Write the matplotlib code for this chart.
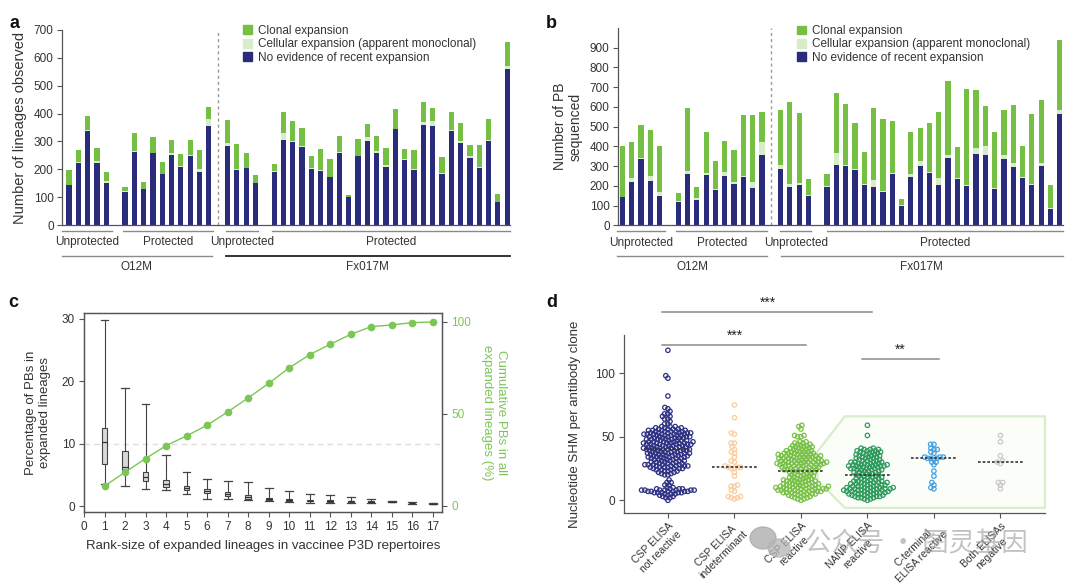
import numpy as np
import matplotlib
matplotlib.use("Agg")
import matplotlib.pyplot as plt
from matplotlib.patches import Patch, Polygon, Ellipse
import matplotlib.transforms as mtransforms

plt.rcParams["font.family"] = ["Liberation Sans", "DejaVu Sans"]
plt.rcParams["axes.edgecolor"] = "#555555"
plt.rcParams["axes.linewidth"] = 0.9
plt.rcParams["xtick.color"] = "#555555"
plt.rcParams["ytick.color"] = "#555555"
plt.rcParams["xtick.labelcolor"] = "#333333"
plt.rcParams["ytick.labelcolor"] = "#333333"
plt.rcParams["axes.labelcolor"] = "#333333"

# ---------------- data ----------------
# groups of animals, in plotting order
group_sizes = [5, 10, 4, 26]
group_names = ["Unprotected", "Protected", "Unprotected", "Protected"]
animal_names = ["O12M", "Fx017M"]

# a: number of lineages observed
lin_none = [142, 222, 338, 222, 150,
            119, 262, 128, 257, 182, 252, 207, 246, 190, 354,
            284, 197, 203, 149,
            191, 306, 299, 281, 202, 194, 172, 258, 100, 246, 302, 260, 207,
            343, 234, 198, 360, 355, 183, 336, 296, 241, 204, 300, 82, 560]
lin_cell = [2, 5, 3, 8, 8,
            2, 4, 3, 3, 2, 5, 4, 4, 12, 27,
            10, 3, 2, 2,
            3, 24, 4, 3, 3, 2, 2, 3, 2, 3, 13, 5, 8,
            3, 4, 2, 10, 18, 2, 4, 6, 6, 3, 4, 2, 11]
lin_clonal = [54, 41, 51, 46, 33,
              15, 64, 23, 57, 41, 49, 43, 56, 69, 44,
              83, 90, 55, 29,
              25, 74, 69, 65, 44, 76, 63, 59, 4, 59, 49, 55, 61,
              71, 34, 68, 73, 48, 60, 66, 65, 40, 80, 76, 28, 85]

# b: number of PB sequenced
pb_none = [142, 221, 338, 226, 150,
           120, 262, 127, 257, 181, 250, 208, 247, 188, 355,
           284, 196, 204, 150,
           194, 306, 301, 280, 204, 194, 169, 262, 100, 243, 302, 264, 204,
           341, 236, 201, 360, 356, 184, 334, 297, 240, 204, 302, 83, 564]
pb_cell = [3, 21, 5, 24, 19,
           2, 15, 10, 10, 3, 19, 10, 3, 33, 69,
           22, 13, 9, 3,
           3, 59, 5, 3, 3, 36, 3, 3, 3, 17, 24, 5, 34,
           17, 3, 3, 30, 48, 3, 22, 17, 3, 3, 12, 3, 20]
pb_clonal = [257, 182, 165, 231, 235,
             44, 316, 56, 204, 140, 158, 164, 311, 340, 149,
             280, 414, 355, 82,
             65, 304, 311, 236, 165, 366, 365, 262, 30, 215, 167, 248, 338,
             375, 160, 487, 296, 201, 288, 227, 294, 159, 359, 319, 118, 355]

# c: rank-size of expanded lineages
rank = list(range(1, 18))
box_whishi = [29.8, 19.0, 16.3, 8.2, 5.5, 4.3, 4.0, 3.9, 2.9, 2.4, 2.0, 1.7, 1.4, 1.1, 0.85, 0.6, 0.45]
box_q3 = [12.5, 8.8, 5.5, 4.1, 3.2, 2.7, 2.2, 1.7, 1.3, 1.1, 1.0, 0.9, 0.85, 0.75, 0.75, 0.55, 0.42]
box_med = [10.2, 6.3, 4.7, 3.6, 2.9, 2.4, 1.9, 1.5, 1.2, 1.0, 0.85, 0.8, 0.75, 0.65, 0.7, 0.5, 0.38]
box_q1 = [6.7, 5.7, 4.0, 3.1, 2.5, 2.1, 1.6, 1.2, 1.0, 0.8, 0.75, 0.7, 0.65, 0.55, 0.65, 0.45, 0.3]
box_whislo = [3.6, 3.2, 2.8, 2.5, 1.9, 1.2, 1.2, 1.0, 0.8, 0.6, 0.5, 0.5, 0.5, 0.45, 0.6, 0.4, 0.25]
cumulative = [10.8, 18.3, 25.7, 32.7, 38.0, 43.8, 51.0, 58.6, 66.5, 74.9, 82.1, 87.7, 93.1, 97.3, 98.2, 99.5, 99.8]

# d: nucleotide SHM per antibody clone
d_labels = ["CSP ELISA\nnot reactive", "CSP ELISA\nindeterminant", "CSP ELISA\nreactive",
            "NANP ELISA\nreactive", "C-terminal\nELISA reactive", "Both ELISAs\nnegative"]
shm0_levels = [118, 98, 96, 82, 73, 72, 70, 68, 66, 64, 62, 60, 58, 57, 56, 55, 54, 53, 52, 51,
               50, 49, 48, 47, 46, 45, 44, 43, 42, 41, 40, 39, 38, 37, 36, 35, 34, 33, 32, 31,
               30, 29, 28, 27, 26, 25, 24, 23, 22, 21, 20, 16, 14, 12, 10, 9, 8, 7, 6, 5,
               4, 3, 2, 0]
shm0_counts = [1, 1, 1, 1, 1, 1, 1, 2, 2, 2, 1, 2, 3, 3, 4, 4, 5, 6, 6, 5,
               5, 5, 5, 5, 5, 6, 6, 5, 5, 5, 6, 5, 5, 5, 5, 5, 5, 4, 4, 4,
               4, 4, 5, 5, 4, 4, 3, 3, 2, 2, 2, 1, 2, 2, 2, 4, 7, 6, 5, 3,
               2, 2, 2, 1]
shm1 = [75, 65, 53, 52, 45, 45, 42, 40, 38, 37, 34, 31, 30, 27, 26, 26, 26, 25, 25, 22,
        19, 12, 11, 11, 8, 7, 3, 3, 2, 2, 1]
shm2_levels = [59, 58, 56, 51, 50, 46, 45, 44, 43, 42, 41, 40, 39, 38, 37, 36, 35, 34, 33, 32,
               31, 30, 29, 28, 27, 26, 25, 24, 23, 22, 21, 20, 19, 18, 17, 16, 15, 14, 13, 12,
               11, 10, 9, 8, 7, 6, 5, 4, 3, 2, 1, 0]
shm2_counts = [1, 1, 1, 2, 2, 2, 2, 2, 3, 3, 3, 3, 3, 4, 4, 5, 5, 5, 5, 5,
               5, 6, 6, 5, 5, 4, 4, 4, 4, 3, 3, 3, 3, 3, 3, 4, 4, 4, 4, 5,
               5, 6, 6, 5, 5, 4, 4, 3, 3, 2, 2, 1]
shm3_levels = [59, 51, 41, 40, 39, 38, 37, 36, 35, 34, 33, 32, 31, 30, 29, 28, 27, 26, 25, 24,
               23, 22, 21, 20, 19, 18, 17, 16, 15, 14, 13, 12, 11, 10, 9, 8, 7, 6, 5, 4,
               3, 2, 1, 0]
shm3_counts = [1, 1, 2, 3, 3, 3, 3, 3, 3, 3, 3, 3, 3, 4, 4, 5, 5, 4, 4, 4,
               3, 3, 3, 3, 3, 3, 3, 3, 4, 4, 4, 4, 4, 5, 6, 5, 5, 5, 4, 4,
               4, 3, 2, 1]
shm4 = [44, 44, 41, 40, 40, 38, 37, 34, 34, 34, 33, 33, 33, 32, 30, 30, 28, 23, 19, 14, 12, 10, 9]
shm5 = [51, 46, 35, 31, 30, 29, 14, 14, 12, 9]
shm_medians = [40, 26, 23, 20, 33, 30]
# significance: (from, to, height, stars)
sig_bars = [(0, 3, 148, "***"), (0, 2, 122.5, "***"), (3, 4, 111.5, "**")]

# ---------------- style ----------------
NAVY = "#2a2c7b"
GREEN = "#74bf44"
LIGHT = "#d6edc8"
GREY_TXT = "#333333"
LINE_GREEN = "#7cc655"
d_colors = ["#2e3184", "#fbcd9c", "#78c046", "#2e9a5c", "#43a2e2", "#c9c9c9"]

W, H = 1080, 587
fig = plt.figure(figsize=(W / 100, H / 100), dpi=100)


def box(l, t, r, b):
    return [l / W, 1 - b / H, (r - l) / W, (b - t) / H]


# bar slots (one empty slot between groups)
slots = []
start = 0
for n in group_sizes:
    slots += list(range(start, start + n))
    start += n + 1
slots = np.array(slots)


def bar_panel(ax, none, cell, clonal, ylim, yticks, ylabel, ylab_size, lvl, spans1, spans2,
              fx_dark, leg_xy):
    none = np.array(none)
    cell = np.array(cell)
    clonal = np.array(clonal)
    ax.bar(slots, none, width=0.56, color=NAVY, zorder=2)
    ax.bar(slots, cell, bottom=none, width=0.56, color=LIGHT, zorder=2)
    ax.bar(slots, clonal, bottom=none + cell, width=0.56, color=GREEN, zorder=2)
    ax.axvline(16, color="#9a9a9a", lw=1, ls=(0, (2.2, 2.2)), zorder=1)
    ax.set_ylim(*ylim)
    ax.set_yticks(yticks)
    ax.set_xticks([])
    for s in ["top", "right"]:
        ax.spines[s].set_visible(False)
    ax.tick_params(axis="y", labelsize=8.5, length=3.5, width=0.8, pad=2.5)
    ax.set_ylabel(ylabel, fontsize=ylab_size, labelpad=5)
    tr = ax.get_xaxis_transform()
    for (x0, x1), name in zip(spans1, group_names):
        ax.plot([x0, x1], [lvl[0], lvl[0]], transform=tr, clip_on=False, color="#8a8a8a", lw=1)
        ax.text((x0 + x1) / 2, lvl[1], name, transform=tr, ha="center", va="center",
                fontsize=8.5, color=GREY_TXT)
    for i, ((x0, x1), name) in enumerate(zip(spans2, animal_names)):
        col = "#222222" if (fx_dark and i == 1) else "#8a8a8a"
        ax.plot([x0, x1], [lvl[2], lvl[2]], transform=tr, clip_on=False, color=col,
                lw=1.3 if (fx_dark and i == 1) else 1)
        ax.text((x0 + x1) / 2, lvl[3], name, transform=tr, ha="center", va="center",
                fontsize=8.5, color=GREY_TXT)
    handles = [Patch(color=GREEN), Patch(color=LIGHT), Patch(color=NAVY)]
    labels = ["Clonal expansion", "Cellular expansion (apparent monoclonal)",
              "No evidence of recent expansion"]
    ax.legend(handles, labels, loc="upper left", bbox_to_anchor=leg_xy, frameon=False,
              fontsize=8.5, handlelength=0.75, handleheight=0.75, handletextpad=0.5,
              labelspacing=0.12, borderpad=0, borderaxespad=0, labelcolor=GREY_TXT)


# ---------------- panel a ----------------
axA = fig.add_axes(box(62, 30, 510, 225))
axA.set_xlim(-0.75, 47.3)
bar_panel(axA, lin_none, lin_cell, lin_clonal, (0, 700), range(0, 701, 100),
          "Number of lineages observed", 10.5,
          (-0.031, -0.087, -0.159, -0.215),
          [(-0.78, 4.57), (5.8, 15.45), (16.8, 20.3), (21.8, 47.3)],
          [(-0.78, 15.3), (16.8, 47.3)], True, (0.404, 1.026))

# ---------------- panel b ----------------
axB = fig.add_axes(box(618, 28, 1063, 225.3))
axB.set_xlim(-0.47, 47.35)
bar_panel(axB, pb_none, pb_cell, pb_clonal, (0, 1000), range(0, 901, 100),
          "Number of PB\nsequenced", 10,
          (-0.027, -0.091, -0.156, -0.21),
          [(-0.54, 4.55), (5.8, 15.55), (16.97, 20.3), (21.96, 47.35)],
          [(-0.54, 15.55), (17.0, 47.35)], False, (0.402, 1.015))

# ---------------- panel c ----------------
axC = fig.add_axes(box(84, 313, 442, 512))
axC.axhline(10, color="#dddddd", lw=1, ls=(0, (4, 3)), zorder=0)
stats = [dict(whislo=lo, q1=a, med=m, q3=b, whishi=hi, label=str(r))
         for r, lo, a, m, b, hi in zip(rank, box_whislo, box_q1, box_med, box_q3, box_whishi)]
axC.bxp(stats, positions=rank, widths=0.28, capwidths=0.38, showfliers=False, patch_artist=True,
        boxprops=dict(facecolor="#d9d9d9", edgecolor="#444444", lw=0.8),
        whiskerprops=dict(color="#444444", lw=0.8),
        capprops=dict(color="#444444", lw=0.9),
        medianprops=dict(color="#333333", lw=0.9))
axC.set_xlim(0, 17.45)
axC.set_ylim(-0.96, 30.96)
axC.set_xticks(range(0, 18))
axC.set_xticklabels([str(i) for i in range(0, 18)])
axC.set_yticks([0, 10, 20, 30])
axC.tick_params(labelsize=8.5, length=3.5, width=0.8, pad=3)
axC.set_xlabel("Rank-size of expanded lineages in vaccinee P3D repertoires", fontsize=9.5,
               labelpad=5)
axC.set_ylabel("Percentage of PBs in\nexpanded lineages", fontsize=9.5, labelpad=8)
axC2 = axC.twinx()
axC2.plot(rank, cumulative, color=LINE_GREEN, lw=1, marker="o", ms=4.5, zorder=3)
axC2.set_ylim(-3.3, 104.7)
axC2.set_yticks([0, 50, 100])
axC2.tick_params(labelsize=8.5, length=3.5, width=0.8, pad=3, labelcolor=LINE_GREEN)
axC2.set_ylabel("Cumulative PBs in all\nexpanded lineages (%)", fontsize=9.5, rotation=270,
                color=LINE_GREEN, labelpad=26)

# ---------------- panel d ----------------
axD = fig.add_axes(box(624, 335, 1045, 513))
axD.set_xlim(-0.66, 5.67)
axD.set_ylim(-10, 130)
for s in ["top", "right"]:
    axD.spines[s].set_visible(False)
axD.set_yticks([0, 50, 100])
axD.set_xticks(range(6))
axD.set_xticklabels(d_labels, rotation=45, ha="right", va="top", rotation_mode="anchor",
                    multialignment="center")
axD.tick_params(axis="y", labelsize=8.5, length=3.5, width=0.8, pad=3)
axD.tick_params(axis="x", labelsize=7.5, length=3.5, width=0.8, pad=2)
axD.set_ylabel("Nucleotide SHM per antibody clone", fontsize=9.5, labelpad=10)

zoom_poly = Polygon([(2.23, 37), (2.66, 66), (5.67, 66), (5.67, -6), (2.66, -6), (2.25, 16)],
                    closed=True, facecolor="#fbfdf9", edgecolor="#d8edca", lw=1.6, zorder=0,
                    clip_on=False)
axD.add_patch(zoom_poly)

shm_values = [np.repeat(shm0_levels, shm0_counts), np.array(shm1),
              np.repeat(shm2_levels, shm2_counts), np.repeat(shm3_levels, shm3_counts),
              np.array(shm4), np.array(shm5)]


def swarm(ax, xc, vals, d):
    pts = ax.transData.transform(np.column_stack([np.full(len(vals), xc), vals]))
    ys = pts[:, 1]
    x0 = pts[0, 0]
    offs = np.zeros(len(vals))
    px_l, py_l = [], []
    for i in np.argsort(ys, kind="stable"):
        y = ys[i]
        px = np.array(px_l)
        py = np.array(py_l)
        c = 0.0
        if len(py):
            near = np.abs(py - y) < d
            if near.any():
                dx = np.sqrt(d ** 2 - (py[near] - y) ** 2)
                cands = np.concatenate([[0.0], px[near] - dx, px[near] + dx])
                cands = cands[np.argsort(np.abs(cands), kind="stable")]
                for c in cands:
                    if np.all((px[near] - c) ** 2 + (py[near] - y) ** 2 >= d ** 2 - 1e-6):
                        break
        offs[i] = c
        px_l.append(c)
        py_l.append(y)
    out = ax.transData.inverted().transform(np.column_stack([x0 + offs, ys]))
    return out[:, 0], out[:, 1]


for k, vals in enumerate(shm_values):
    xs, ys = swarm(axD, k, vals, 3.3)
    axD.scatter(xs, ys, s=10, facecolors="none", edgecolors=d_colors[k], linewidths=0.9, zorder=2)
    axD.plot([k - 0.34, k + 0.34], [shm_medians[k]] * 2, color="#333333", lw=1.2,
             ls=(0, (1.6, 1.2)), zorder=3)

for i0, i1, h, stars in sig_bars:
    axD.plot([i0 - 0.085, i1 + 0.07], [h, h], color="#8a8a8a", lw=1.1, clip_on=False)
    axD.text((i0 + i1) / 2, h + 1.5, stars, ha="center", va="bottom", fontsize=10,
             color="#222222", clip_on=False)

# ---------------- panel letters ----------------
for letter, x, y in [("a", 10, 28), ("b", 546, 28), ("c", 8, 307), ("d", 546, 307)]:
    fig.text(x / W, 1 - y / H, letter, fontsize=13, fontweight="bold", va="baseline",
             color="#111111")

# ---------------- watermark ----------------
idt = mtransforms.IdentityTransform()
fig.add_artist(Ellipse((763, H - 538), 26, 22, transform=idt, color="#a8a8a8", alpha=0.75))
fig.add_artist(Ellipse((779, H - 548), 22, 18, transform=idt, color="#b5b5b5", alpha=0.75))
fig.text(805 / W, 1 - 544 / H, "公众号 · 图灵基因", fontsize=19, color="#9a9a9a", alpha=0.6,
         va="center", family=["Noto Sans CJK SC", "DejaVu Sans"])

fig.savefig("out.png", dpi=100)
